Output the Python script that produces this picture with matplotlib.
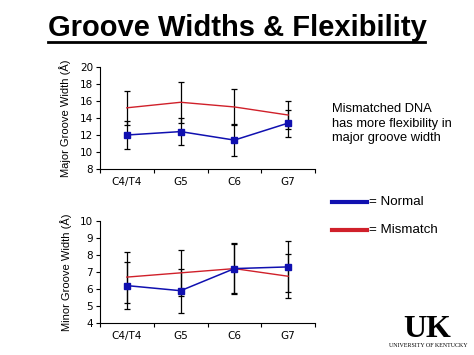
import matplotlib
matplotlib.use("Agg")
import matplotlib.pyplot as plt
import numpy as np

positions = ["C4/T4", "G5", "C6", "G7"]

major_normal = [12.0, 12.4, 11.4, 13.4]
major_normal_err = [1.6, 1.6, 1.9, 1.6]
major_mismatch = [15.2, 15.85, 15.3, 14.35]
major_mismatch_err = [2.0, 2.4, 2.1, 1.65]

minor_normal = [6.2, 5.9, 7.2, 7.3]
minor_normal_err = [1.4, 1.3, 1.5, 1.5]
minor_mismatch = [6.7, 6.95, 7.2, 6.75]
minor_mismatch_err = [1.5, 1.35, 1.45, 1.3]

BLUE = "#1010b0"
RED = "#d0202a"

plt.rcParams["font.family"] = ["Liberation Sans", "DejaVu Sans"]

fig = plt.figure(figsize=(4.74, 3.55), dpi=100)

ax_top = fig.add_axes([100 / 474, 1 - 169 / 355, 215 / 474, 102 / 355])
ax_bot = fig.add_axes([100 / 474, 1 - 323 / 355, 215 / 474, 102 / 355])


def draw_panel(ax, normal, normal_err, mismatch, mismatch_err, ylim, yticks, ylabel):
    x = np.arange(len(positions))
    ax.errorbar(x, mismatch, yerr=mismatch_err, color=RED, lw=1.0,
                ecolor="black", elinewidth=0.9, capsize=2, capthick=0.9)
    ax.errorbar(x, normal, yerr=normal_err, color=BLUE, lw=1.1, marker="s",
                markersize=4, ecolor="black", elinewidth=0.9, capsize=2, capthick=0.9)
    ax.set_xlim(-0.5, len(positions) - 0.5)
    ax.set_ylim(*ylim)
    ax.set_yticks(yticks)
    ax.set_xticks(np.arange(len(positions) + 1) - 0.5, minor=False)
    ax.set_xticklabels([])
    ax.set_xticks(x, minor=True)
    ax.set_xticklabels(positions, minor=True, fontsize=7.5, family="DejaVu Sans")
    ax.tick_params(axis="x", which="minor", length=0, pad=6)
    ax.tick_params(axis="x", which="major", length=3, direction="out")
    ax.tick_params(axis="y", labelsize=7.5, length=3, direction="out", pad=2)
    for lbl in ax.get_yticklabels():
        lbl.set_family("DejaVu Sans")
    for side in ["top", "right"]:
        ax.spines[side].set_visible(False)
    ax.spines["left"].set_linewidth(0.8)
    ax.spines["bottom"].set_linewidth(0.8)
    ax.set_ylabel(ylabel, fontsize=8, labelpad=6)


draw_panel(ax_top, major_normal, major_normal_err, major_mismatch, major_mismatch_err,
           (8, 20), [8, 10, 12, 14, 16, 18, 20], "Major Groove Width (Å)")
draw_panel(ax_bot, minor_normal, minor_normal_err, minor_mismatch, minor_mismatch_err,
           (4, 10), [4, 5, 6, 7, 8, 9, 10], "Minor Groove Width (Å)")

# title with underline
fig.text(48 / 474, 1 - 36 / 355, "Groove Widths & Flexibility", fontsize=21,
         fontweight="bold", ha="left", va="baseline")
fig.add_artist(plt.Line2D([48 / 474, 425 / 474], [1 - 42 / 355, 1 - 42 / 355],
                          color="black", lw=2))

fig.text(332 / 474, 1 - 103 / 355,
         "Mismatched DNA\nhas more flexibility in\nmajor groove width",
         fontsize=9.3, ha="left", va="top", linespacing=1.3)

# legend
for y, color, label in [(202, BLUE, "= Normal"), (230, RED, "= Mismatch")]:
    fig.add_artist(plt.Line2D([332 / 474, 367 / 474], [1 - y / 355, 1 - y / 355],
                              color=color, lw=3))
    fig.text(369 / 474, 1 - y / 355, label, fontsize=9.6, ha="left", va="center")

# UK logo
fig.text(427 / 474, 1 - 337 / 355, "UK", fontsize=23, fontweight="bold",
         family="Liberation Serif", ha="center", va="baseline")
fig.text(428 / 474, 1 - 343 / 355, "UNIVERSITY OF KENTUCKY", fontsize=4.3,
         family="Liberation Serif", ha="center", va="top")

fig.savefig("out.png", dpi=100)
